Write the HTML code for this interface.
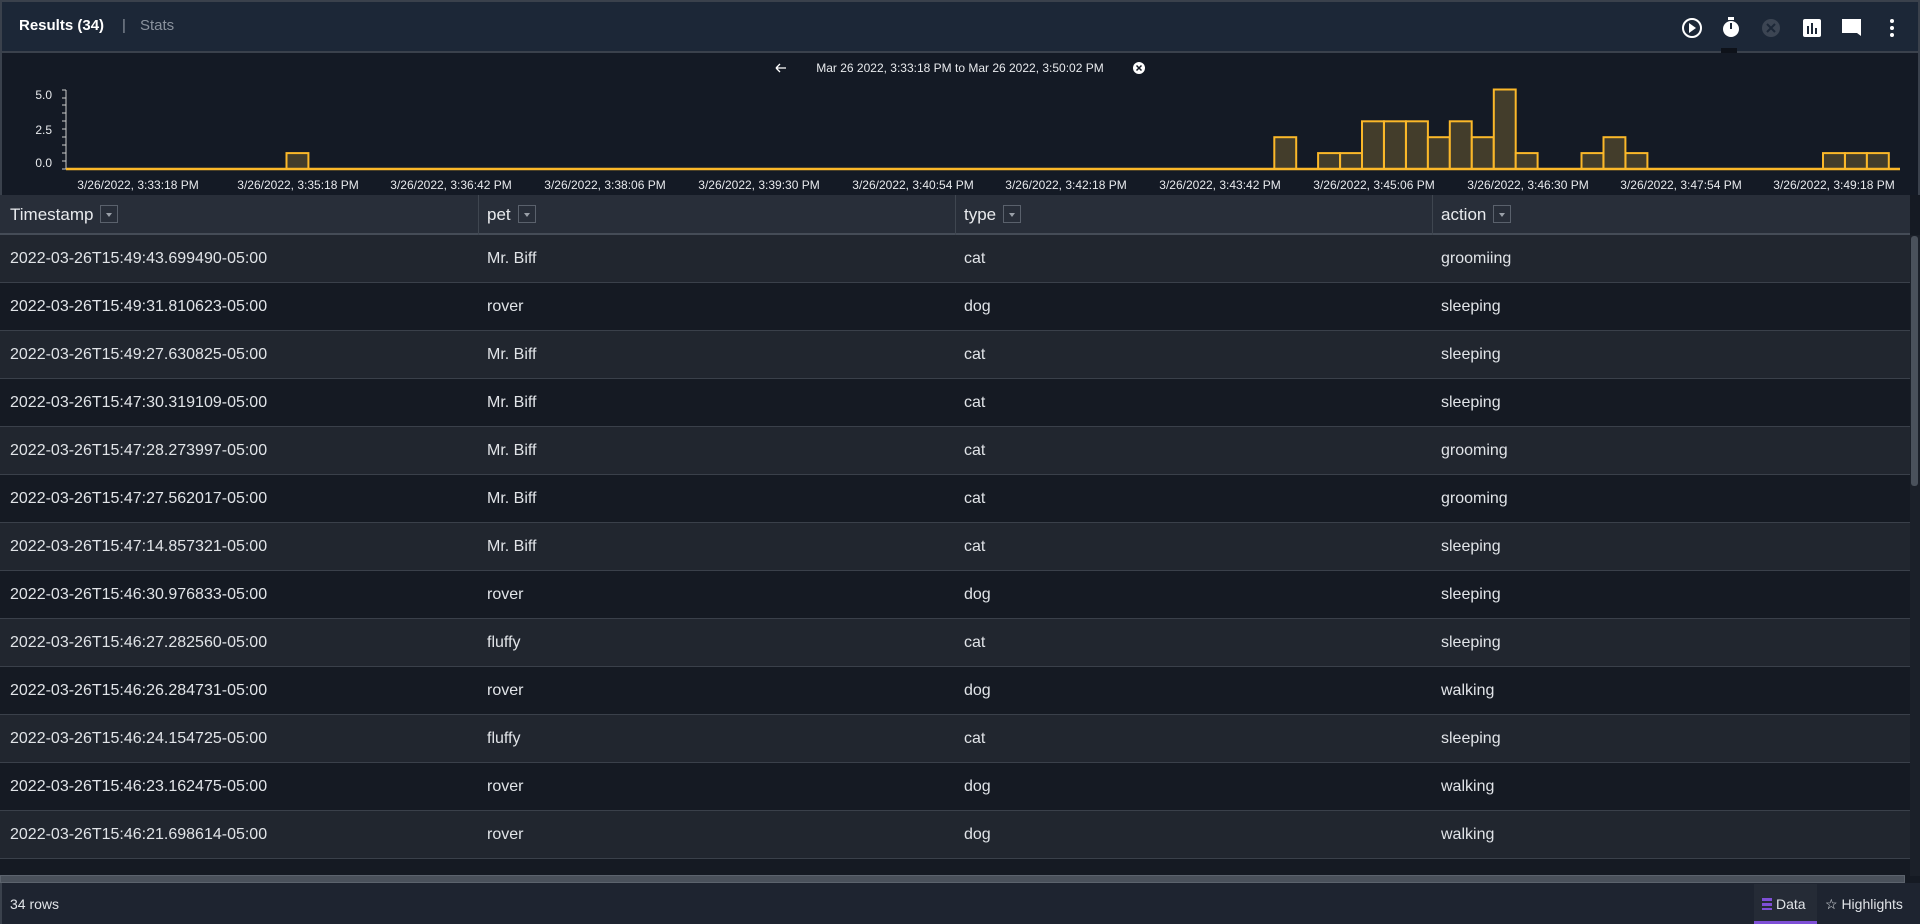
<!DOCTYPE html>
<html><head><meta charset="utf-8"><style>
*{margin:0;padding:0;box-sizing:border-box}
body{width:1920px;height:924px;background:#151a23;font-family:"Liberation Sans",sans-serif;color:#e1e4e8;position:relative;overflow:hidden}
.hdr{position:absolute;left:0;top:0;width:1920px;height:53px;background:#1c2737;border-top:2px solid #3a414c;border-bottom:2px solid #3a414c;border-left:2px solid #3a414c;border-right:2px solid #3a414c}
.hdr .t{position:absolute;top:15px;font-size:15px}
.chart{position:absolute;left:0;top:53px;width:1920px;height:142px;background:#141a25;border-left:2px solid #3a414c;border-right:2px solid #3a414c}
.thead{position:absolute;left:0;top:195px;width:1910px;height:40px;background:#282e39;border-bottom:2px solid #454c57}
.th{position:absolute;top:10px;font-size:17px;color:#e8eaed}
.dd{display:inline-block;width:18px;height:18px;border:1px solid #5a616c;vertical-align:middle;margin-left:7px;position:relative;top:-2px}
.dd:after{content:"";position:absolute;left:5px;top:7px;border-left:3px solid transparent;border-right:3px solid transparent;border-top:4px solid #9aa0a8}
.row{position:absolute;left:0;width:1910px;height:48px;border-bottom:1px solid #3a404a;font-size:16px}
.row span{position:absolute;top:15px}
.vsep{position:absolute;top:195px;width:1px;height:40px;background:#3f4650}
</style></head><body>
<div class="hdr">
<div class="t" style="left:17px;font-weight:bold;color:#fff">Results (34)</div>
<div class="t" style="left:120px;color:#8a929d">|</div>
<div class="t" style="left:138px;color:#8a929d">Stats</div>
<svg style="position:absolute;left:1670px;top:12px" width="240" height="30">
<circle cx="20" cy="14" r="9" fill="none" stroke="#fff" stroke-width="2"/><path d="M17 9 L24 14 L17 19Z" fill="#fff"/>
<circle cx="59" cy="15" r="8" fill="#fff"/><rect x="56" y="3" width="6" height="3" fill="#fff"/><rect x="58" y="9" width="2" height="6" fill="#1c2737"/>
<circle cx="99" cy="14" r="9" fill="#3c4553"/><path d="M95 10L103 18M103 10L95 18" stroke="#1c2737" stroke-width="2"/>
<rect x="131" y="5" width="18" height="18" rx="2" fill="#fff"/><rect x="135" y="12" width="2" height="8" fill="#1c2737"/><rect x="139" y="9" width="2" height="11" fill="#1c2737"/><rect x="143" y="14" width="2" height="6" fill="#1c2737"/>
<path d="M170 5h19v17l-4-3h-15z" fill="#fff"/>
<circle cx="220" cy="7" r="2" fill="#fff"/><circle cx="220" cy="14" r="2" fill="#fff"/><circle cx="220" cy="21" r="2" fill="#fff"/>
</svg>
</div>
<div style="position:absolute;left:1721px;top:48px;width:16px;height:15px;background:#0e121a"></div>
<div class="chart"></div>
<svg style="position:absolute;left:0;top:53px" width="1920" height="142" font-family="Liberation Sans, sans-serif">
<text x="960" y="19" font-size="12" fill="#e8eaed" text-anchor="middle">Mar 26 2022, 3:33:18 PM to Mar 26 2022, 3:50:02 PM</text>
<path d="M776 15h10M776 15l4-4M776 15l4 4" stroke="#fff" stroke-width="1.3" fill="none"/>
<circle cx="1139" cy="15" r="6" fill="#fff"/><path d="M1136.5 12.5l5 5M1141.5 12.5l-5 5" stroke="#141a25" stroke-width="1.5"/>
<g font-size="12" fill="#e8eaed" text-anchor="end">
<text x="52" y="46">5.0</text><text x="52" y="81">2.5</text><text x="52" y="114">0.0</text></g>
<path d="M66 37V116" stroke="#ccc" stroke-width="1"/>
<g stroke="#ccc"><path d="M62 37h4M62 45h4M62 52h4M62 60h4M62 68h4M62 76h4M62 84h4M62 92h4M62 100h4M62 108h4M62 116h4"/></g>
<g id="bars" fill="#433d2b" stroke="#fbb829" stroke-width="2"></g>
<path d="M66 116H1900" stroke="#fbb829" stroke-width="2.5"/>
<g font-size="12" fill="#e8eaed" text-anchor="middle">
<text x="138" y="136">3/26/2022, 3:33:18 PM</text><text x="298" y="136">3/26/2022, 3:35:18 PM</text><text x="451" y="136">3/26/2022, 3:36:42 PM</text><text x="605" y="136">3/26/2022, 3:38:06 PM</text><text x="759" y="136">3/26/2022, 3:39:30 PM</text><text x="913" y="136">3/26/2022, 3:40:54 PM</text><text x="1066" y="136">3/26/2022, 3:42:18 PM</text><text x="1220" y="136">3/26/2022, 3:43:42 PM</text><text x="1374" y="136">3/26/2022, 3:45:06 PM</text><text x="1528" y="136">3/26/2022, 3:46:30 PM</text><text x="1681" y="136">3/26/2022, 3:47:54 PM</text><text x="1834" y="136">3/26/2022, 3:49:18 PM</text></g>
</svg>
<script>
var d={10:1,55:2,57:1,58:1,59:3,60:3,61:3,62:2,63:3,64:2,65:5,66:1,69:1,70:2,71:1,80:1,81:1,82:1},g=document.getElementById('bars'),s='';
for(var k in d){var x=67+k*21.95,h=d[k]*15.9;s+='<rect x="'+x.toFixed(1)+'" y="'+(116-h).toFixed(1)+'" width="21.9" height="'+h.toFixed(1)+'"/>';}
g.innerHTML=s;
</script>
<div class="thead">
<div class="th" style="left:10px">Timestamp<span class="dd"></span></div>
<div class="th" style="left:487px">pet<span class="dd"></span></div>
<div class="th" style="left:964px">type<span class="dd"></span></div>
<div class="th" style="left:1441px">action<span class="dd"></span></div>
</div>
<div class="vsep" style="left:478px"></div><div class="vsep" style="left:955px"></div><div class="vsep" style="left:1432px"></div>
<div id="rows"></div>
<script>
var r=[["2022-03-26T15:49:43.699490-05:00","Mr. Biff","cat","groomiing"],["2022-03-26T15:49:31.810623-05:00","rover","dog","sleeping"],["2022-03-26T15:49:27.630825-05:00","Mr. Biff","cat","sleeping"],["2022-03-26T15:47:30.319109-05:00","Mr. Biff","cat","sleeping"],["2022-03-26T15:47:28.273997-05:00","Mr. Biff","cat","grooming"],["2022-03-26T15:47:27.562017-05:00","Mr. Biff","cat","grooming"],["2022-03-26T15:47:14.857321-05:00","Mr. Biff","cat","sleeping"],["2022-03-26T15:46:30.976833-05:00","rover","dog","sleeping"],["2022-03-26T15:46:27.282560-05:00","fluffy","cat","sleeping"],["2022-03-26T15:46:26.284731-05:00","rover","dog","walking"],["2022-03-26T15:46:24.154725-05:00","fluffy","cat","sleeping"],["2022-03-26T15:46:23.162475-05:00","rover","dog","walking"],["2022-03-26T15:46:21.698614-05:00","rover","dog","walking"]];
var h='';r.forEach(function(a,i){h+='<div class="row" style="top:'+(235+i*48)+'px;background:'+(i%2?'#151a23':'#21262f')+'"><span style="left:10px">'+a[0]+'</span><span style="left:487px">'+a[1]+'</span><span style="left:964px">'+a[2]+'</span><span style="left:1441px">'+a[3]+'</span></div>';});
document.getElementById('rows').innerHTML=h;
</script>
<div style="position:absolute;left:1910px;top:235px;width:10px;height:641px;background:#1b2029"></div>
<div style="position:absolute;left:1911px;top:236px;width:7px;height:250px;background:#4a515b;border-radius:3px"></div>
<div style="position:absolute;left:0;top:875px;width:1905px;height:8px;background:#4a515b;border:1px solid #5c636d"></div>
<div style="position:absolute;left:0;top:883px;width:1920px;height:41px;background:#1e2430;border-left:2px solid #3a414c"></div>
<div style="position:absolute;left:10px;top:896px;font-size:14px;color:#e1e4e8">34 rows</div>
<div style="position:absolute;left:1754px;top:884px;width:63px;height:40px;background:#252b36;border-bottom:3px solid #7e4fd6"></div>
<div style="position:absolute;left:1762px;top:898px;width:10px;height:12px;background:repeating-linear-gradient(#7e4fd6 0 3px,transparent 3px 5px)"></div>
<div style="position:absolute;left:1776px;top:896px;font-size:14px;color:#e1e4e8">Data</div>
<div style="position:absolute;left:1825px;top:896px;font-size:14px;color:#e1e4e8">☆ Highlights</div>
</body></html>
